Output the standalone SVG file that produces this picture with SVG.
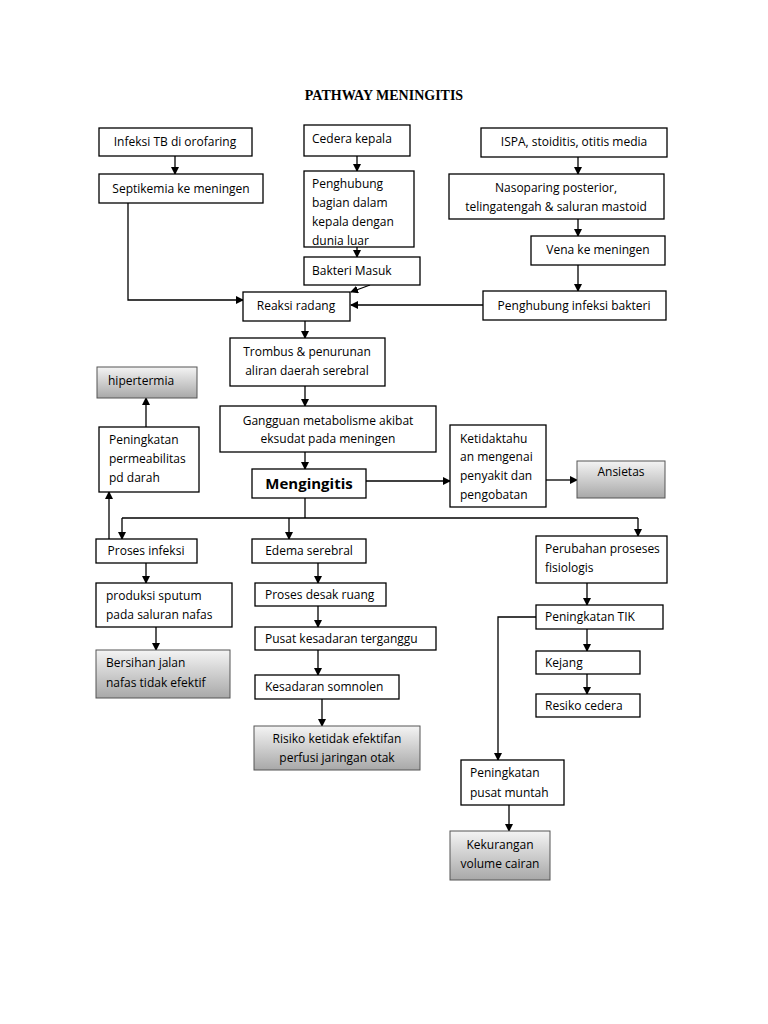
<svg xmlns="http://www.w3.org/2000/svg" width="768" height="1024" viewBox="0 0 768 1024">
<style>
.b{fill:#fff;stroke:#000;stroke-width:1.3}
.g{fill:url(#gr);stroke:#555;stroke-width:1}
text{font-family:"Open Sans","Noto Sans",sans-serif;font-size:12px;fill:#000}
.c line,.c polyline{stroke:#000;stroke-width:1.3;fill:none;marker-end:url(#ah)}
</style>
<defs>
<linearGradient id="gr" x1="0" y1="0" x2="0" y2="1"><stop offset="0" stop-color="#f4f4f4"/><stop offset="1" stop-color="#a8a8a8"/></linearGradient>
<marker id="ah" markerWidth="8" markerHeight="8" refX="7" refY="4" orient="auto" markerUnits="userSpaceOnUse"><path d="M0,0L8,4L0,8z" fill="#000"/></marker>
</defs>
<rect width="768" height="1024" fill="#fff"/>
<text x="384" y="100" text-anchor="middle" style="font-family:'Liberation Serif',serif;font-weight:bold;font-size:14px">PATHWAY MENINGITIS</text>
<g class="c">
<line x1="175" y1="156" x2="175" y2="174"/>
<line x1="357" y1="156" x2="357" y2="171"/>
<line x1="357" y1="247" x2="357" y2="257"/>
<line x1="578" y1="157" x2="578" y2="174"/>
<line x1="578" y1="219" x2="578" y2="236"/>
<line x1="578" y1="265" x2="578" y2="291"/>
<polyline points="128,203 128,300 243,300"/>
<line x1="370" y1="285" x2="351" y2="292"/>
<line x1="483" y1="305" x2="351" y2="305"/>
<line x1="305" y1="321" x2="305" y2="338"/>
<line x1="305" y1="386" x2="305" y2="406"/>
<line x1="305" y1="452" x2="305" y2="469"/>
<line x1="366" y1="481" x2="450" y2="481"/>
<line x1="546" y1="480" x2="577" y2="480"/>
<line x1="305" y1="498" x2="305" y2="518" style="marker-end:none"/>
<line x1="122" y1="518" x2="638" y2="518" style="marker-end:none"/>
<line x1="122" y1="518" x2="122" y2="539"/>
<line x1="289" y1="518" x2="289" y2="539"/>
<line x1="638" y1="518" x2="638" y2="536"/>
<line x1="109" y1="539" x2="109" y2="492"/>
<line x1="146" y1="427" x2="146" y2="398"/>
<line x1="146" y1="563" x2="146" y2="583"/>
<line x1="156" y1="627" x2="156" y2="650"/>
<line x1="318" y1="563" x2="318" y2="583"/>
<line x1="318" y1="606" x2="318" y2="627"/>
<line x1="318" y1="650" x2="318" y2="675"/>
<line x1="322" y1="699" x2="322" y2="726"/>
<line x1="587" y1="583" x2="587" y2="605"/>
<line x1="587" y1="629" x2="587" y2="651"/>
<line x1="587" y1="674" x2="587" y2="694"/>
<polyline points="536,617 498,617 498,760"/>
<line x1="509" y1="805" x2="509" y2="831"/>
</g>
<g id="n1"><rect class="b" x="99" y="128" width="153" height="28"/><text x="175" y="146" text-anchor="middle">Infeksi TB di orofaring</text></g>
<g id="n2"><rect class="b" x="99" y="174" width="164" height="29"/><text x="181" y="193" text-anchor="middle">Septikemia ke meningen</text></g>
<g id="n3"><rect class="b" x="304" y="125" width="106" height="31"/><text x="312" y="143">Cedera kepala</text></g>
<g id="n4"><rect class="b" x="304" y="171" width="110" height="76"/><text x="312" y="188">Penghubung</text><text x="312" y="207">bagian dalam</text><text x="312" y="226">kepala dengan</text><text x="312" y="245">dunia luar</text></g>
<g id="n5"><rect class="b" x="304" y="257" width="116" height="28"/><text x="312" y="275">Bakteri Masuk</text></g>
<g id="n6"><rect class="b" x="481" y="128" width="186" height="29"/><text x="574" y="146" text-anchor="middle">ISPA, stoiditis, otitis media</text></g>
<g id="n7"><rect class="b" x="449" y="174" width="215" height="45"/><text x="556" y="192" text-anchor="middle">Nasoparing posterior,</text><text x="556" y="211" text-anchor="middle">telingatengah &amp; saluran mastoid</text></g>
<g id="n8"><rect class="b" x="531" y="236" width="134" height="29"/><text x="598" y="254" text-anchor="middle">Vena ke meningen</text></g>
<g id="n9"><rect class="b" x="483" y="291" width="183" height="29"/><text x="574" y="310" text-anchor="middle">Penghubung infeksi bakteri</text></g>
<g id="n10"><rect class="b" x="243" y="292" width="107" height="29"/><text x="296" y="310" text-anchor="middle">Reaksi radang</text></g>
<g id="n11"><rect class="b" x="230" y="338" width="155" height="48"/><text x="307" y="356" text-anchor="middle">Trombus &amp; penurunan</text><text x="307" y="375" text-anchor="middle">aliran daerah serebral</text></g>
<g id="n12"><rect class="b" x="220" y="406" width="216" height="46"/><text x="328" y="425" text-anchor="middle">Gangguan metabolisme akibat</text><text x="328" y="443" text-anchor="middle">eksudat pada meningen</text></g>
<g id="n13"><rect class="b" x="252" y="469" width="114" height="29"/><text x="309" y="489" text-anchor="middle" style="font-size:15px;font-weight:bold">Mengingitis</text></g>
<g id="n14"><rect class="b" x="450" y="425" width="96" height="82"/><text x="460" y="443">Ketidaktahu</text><text x="460" y="461">an mengenai</text><text x="460" y="480">penyakit dan</text><text x="460" y="499">pengobatan</text></g>
<g id="n15"><rect class="g" x="577" y="461" width="88" height="37"/><text x="621" y="476" text-anchor="middle">Ansietas</text></g>
<g id="n16"><rect class="g" x="97" y="367" width="100" height="31"/><text x="108" y="385">hipertermia</text></g>
<g id="n17"><rect class="b" x="99" y="427" width="100" height="65"/><text x="109" y="444">Peningkatan</text><text x="109" y="463">permeabilitas</text><text x="109" y="482">pd darah</text></g>
<g id="n18"><rect class="b" x="96" y="539" width="101" height="24"/><text x="146" y="555" text-anchor="middle">Proses infeksi</text></g>
<g id="n19"><rect class="b" x="252" y="539" width="114" height="24"/><text x="309" y="555" text-anchor="middle">Edema serebral</text></g>
<g id="n20"><rect class="b" x="536" y="536" width="131" height="47"/><text x="545" y="553">Perubahan proseses</text><text x="545" y="572">fisiologis</text></g>
<g id="n21"><rect class="b" x="96" y="583" width="136" height="44"/><text x="106" y="600">produksi sputum</text><text x="106" y="619">pada saluran nafas</text></g>
<g id="n22"><rect class="g" x="96" y="650" width="134" height="48"/><text x="106" y="667">Bersihan jalan</text><text x="106" y="687">nafas tidak efektif</text></g>
<g id="n23"><rect class="b" x="255" y="583" width="131" height="23"/><text x="265" y="599">Proses desak ruang</text></g>
<g id="n24"><rect class="b" x="255" y="627" width="181" height="23"/><text x="265" y="643">Pusat kesadaran terganggu</text></g>
<g id="n25"><rect class="b" x="255" y="675" width="144" height="24"/><text x="265" y="691">Kesadaran somnolen</text></g>
<g id="n26"><rect class="g" x="254" y="726" width="166" height="44"/><text x="337" y="743" text-anchor="middle">Risiko ketidak efektifan</text><text x="337" y="762" text-anchor="middle">perfusi jaringan otak</text></g>
<g id="n27"><rect class="b" x="536" y="605" width="127" height="24"/><text x="545" y="621">Peningkatan TIK</text></g>
<g id="n28"><rect class="b" x="536" y="651" width="104" height="23"/><text x="545" y="667">Kejang</text></g>
<g id="n29"><rect class="b" x="536" y="694" width="104" height="23"/><text x="545" y="710">Resiko cedera</text></g>
<g id="n30"><rect class="b" x="461" y="760" width="103" height="45"/><text x="470" y="777">Peningkatan</text><text x="470" y="797">pusat muntah</text></g>
<g id="n31"><rect class="g" x="450" y="831" width="100" height="49"/><text x="500" y="849" text-anchor="middle">Kekurangan</text><text x="500" y="868" text-anchor="middle">volume cairan</text></g>
</svg>
